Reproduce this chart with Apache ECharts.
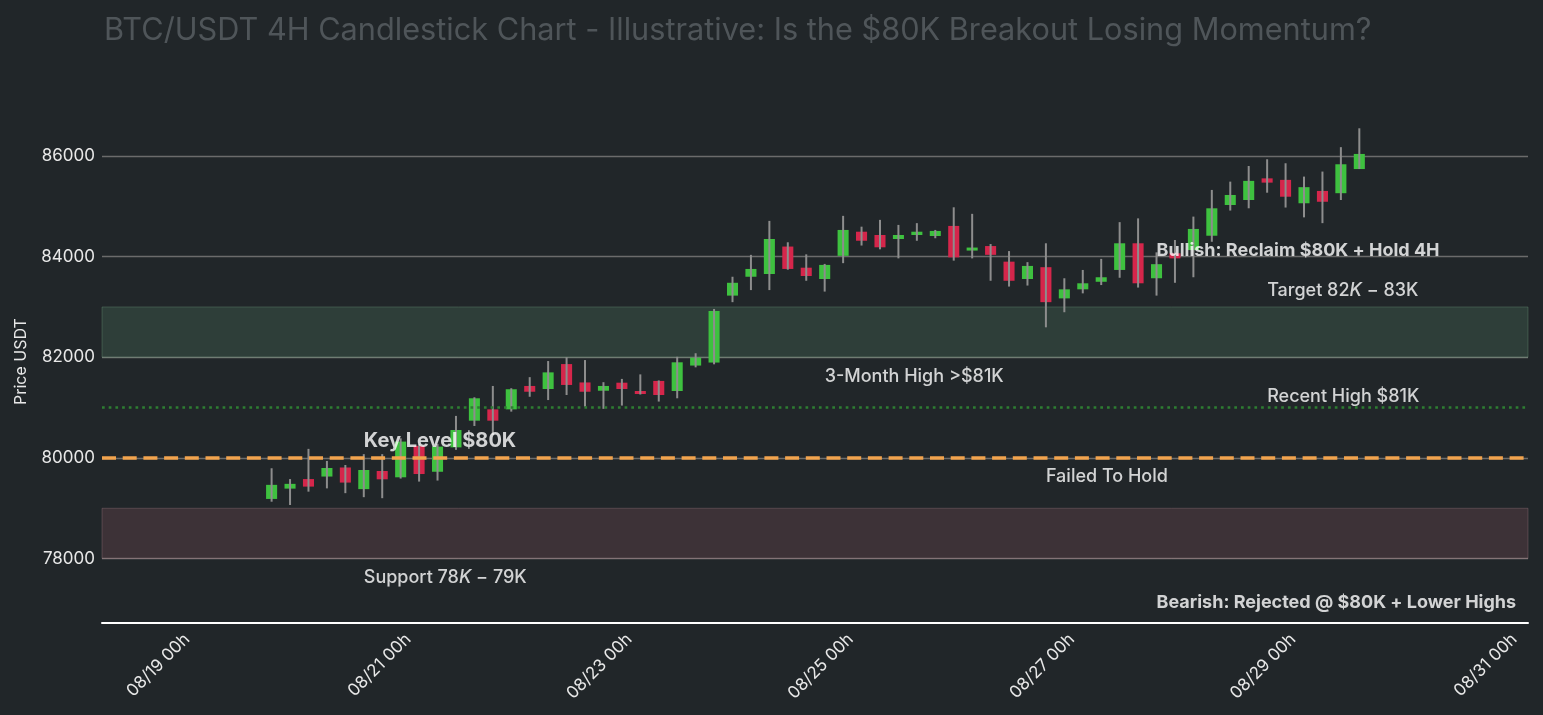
<!DOCTYPE html>
<html>
<head>
<meta charset="utf-8">
<title>BTC/USDT 4H Candlestick Chart</title>
<script src="https://cdn.jsdelivr.net/npm/echarts@6/dist/echarts.min.js"></script>
<style>
html, body { margin: 0; padding: 0; background: #212629; }
#main { width: 1543px; height: 715px; }
</style>
</head>
<body>
<div id="main"></div>
<script>
// 4H candles, times are MM-DD HH
var times = [
    '08-19 16', '08-19 20',
    '08-20 00', '08-20 04', '08-20 08', '08-20 12', '08-20 16', '08-20 20',
    '08-21 00', '08-21 04', '08-21 08', '08-21 12', '08-21 16', '08-21 20',
    '08-22 00', '08-22 04', '08-22 08', '08-22 12', '08-22 16', '08-22 20',
    '08-23 00', '08-23 04', '08-23 08', '08-23 12', '08-23 16', '08-23 20',
    '08-24 00', '08-24 04', '08-24 08', '08-24 12', '08-24 16', '08-24 20',
    '08-25 00', '08-25 04', '08-25 08', '08-25 12', '08-25 16', '08-25 20',
    '08-26 00', '08-26 04', '08-26 08', '08-26 12', '08-26 16', '08-26 20',
    '08-27 00', '08-27 04', '08-27 08', '08-27 12', '08-27 16', '08-27 20',
    '08-28 00', '08-28 04', '08-28 08', '08-28 12', '08-28 16', '08-28 20',
    '08-29 00', '08-29 04', '08-29 08', '08-29 12'
];
var opens = [
    79185, 79390, 79580, 79630, 79810, 79380, 79740, 79615, 80240, 79725,
    80210, 80740, 80965, 80965, 81430, 81370, 81865, 81500, 81335, 81495,
    81330, 81530, 81330, 81835, 81895, 83225, 83600, 83655, 84200, 83780,
    83555, 84015, 84495, 84430, 84350, 84430, 84410, 84610, 84120, 84210,
    83900, 83555, 83790, 83170, 83350, 83500, 83735, 84265, 83570, 84065,
    84130, 84415, 85025, 85125, 85555, 85525, 85060, 85305, 85260, 85740
];
var closes = [
    79465, 79485, 79430, 79800, 79510, 79760, 79575, 80325, 79680, 80225,
    80555, 81185, 80740, 81365, 81315, 81700, 81450, 81315, 81430, 81370,
    81270, 81250, 81900, 81990, 82920, 83480, 83755, 84350, 83755, 83615,
    83835, 84530, 84315, 84185, 84430, 84495, 84510, 83985, 84180, 84035,
    83520, 83815, 83095, 83350, 83470, 83590, 84265, 83470, 83850, 83965,
    84550, 84960, 85225, 85505, 85470, 85190, 85380, 85090, 85835, 86040
];
var lows = [
    79130, 79065, 79330, 79395, 79300, 79220, 79200, 79590, 79530, 79550,
    80160, 80635, 80455, 80920, 81215, 81150, 81250, 81020, 80975, 81040,
    81260, 81120, 81185, 81800, 81860, 83095, 83335, 83335, 83740, 83520,
    83305, 83870, 84220, 84145, 83965, 84315, 84365, 83920, 83965, 83520,
    83405, 83425, 82595, 82895, 83270, 83435, 83580, 83385, 83225, 83480,
    83590, 84295, 84915, 84960, 85270, 84975, 84780, 84665, 85125, 85740
];
var highs = [
    79795, 79580, 80180, 79940, 79860, 80075, 80075, 80390, 80275, 80275,
    80835, 81205, 81430, 81385, 81605, 81925, 82000, 81945, 81505, 81570,
    81660, 81540, 82010, 82080, 82960, 83600, 84035, 84710, 84285, 84045,
    83855, 84810, 84595, 84730, 84630, 84665, 84530, 84980, 84850, 84250,
    84110, 83890, 84265, 83570, 83735, 83955, 84685, 84760, 84085, 84330,
    84795, 85325, 85490, 85800, 85935, 85855, 85590, 85690, 86175, 86550
];

var xTicks = ['08-19 00', '08-21 00', '08-23 00', '08-25 00', '08-27 00', '08-29 00', '08-31 00'];
var xRange = ['08-18 03:12', '08-31 00:36'];
var yTicks = [78000, 80000, 82000, 84000, 86000];
var yRange = [76730, 87100];

var keyLevel = 80000;
var recentHigh = 81000;
var targetZone = [82000, 83000];
var supportZone = [78000, 79000];

var annoText = [
    'Key Level $80K',
    '3-Month High >$81K',
    'Recent High $81K',
    'Failed To Hold',
    'Bullish: Reclaim $80K + Hold 4H',
    'Target 82{i|K} − 83K',
    'Support 78{i|K} − 79K',
    'Bearish: Rejected @ $80K + Lower Highs'
];
var annoTimes = ['08-20 12', '08-24 16', '08-28 16', '08-26 16', '08-27 16', '08-28 16', '08-20 12', '08-27 16'];
var annoValues = [80330, 81610, 81210, 79620, 84110, 83320, 77620, 77120];

function ts(s) {
    var p = s.split(' ');
    var hm = p[1].length === 2 ? p[1] + ':00' : p[1];
    return new Date('2025-' + p[0] + 'T' + hm + ':00').getTime();
}
function pad(n) { return n < 10 ? '0' + n : '' + n; }

var FONT = 'Inter';
var TEXT = '#e8e8e8';
var FOUR_H = 4 * 3600 * 1000;

var candles = times.map(function (t, i) {
    return [ts(t), opens[i], closes[i], lows[i], highs[i]];
});

function renderCandle(params, api) {
    var t = api.value(0), o = api.value(1), c = api.value(2);
    var top = api.coord([t, Math.max(o, c)]);
    var bot = api.coord([t, Math.min(o, c)]);
    var hi = api.coord([t, api.value(4)]);
    var lo = api.coord([t, api.value(3)]);
    var w = api.size([FOUR_H, 0])[0] * 0.6;
    return {
        type: 'group',
        children: [
            {
                type: 'rect',
                shape: { x: top[0] - w / 2, y: top[1], width: w, height: Math.max(bot[1] - top[1], 1.5) },
                style: { fill: c >= o ? '#3ec13f' : '#d5264b' }
            },
            {
                type: 'line',
                shape: { x1: hi[0], y1: hi[1], x2: lo[0], y2: lo[1] },
                style: { stroke: '#8d8d8d', lineWidth: 2 }
            }
        ]
    };
}

// bold annotations: index -> font size
var boldNotes = { 0: 20, 4: 18, 7: 18 };

var notes = annoTimes.map(function (t, i) {
    var bold = boldNotes[i] !== undefined;
    return {
        value: [ts(t), annoValues[i]],
        label: {
            show: true,
            position: 'right',
            distance: 0,
            formatter: annoText[i],
            color: '#ffffff',
            fontFamily: FONT,
            fontSize: bold ? boldNotes[i] : 18,
            fontWeight: bold ? 'bold' : 500,
            rich: {
                i: { fontStyle: 'italic', fontWeight: 500, fontFamily: FONT, fontSize: 18, color: '#ffffff' }
            }
        }
    };
});

var myChart = echarts.init(document.getElementById('main'));

var option = {
    backgroundColor: '#212629',
    animation: false,
    title: {
        text: 'BTC/USDT 4H Candlestick Chart - Illustrative: Is the $80K Breakout Losing Momentum?',
        left: 104,
        top: 15,
        padding: 0,
        textStyle: { color: '#4f5559', fontFamily: FONT, fontSize: 30.7, fontWeight: 'normal' }
    },
    grid: { left: 102, right: 15, top: 100.6, bottom: 92.5 },
    xAxis: {
        type: 'value',
        min: ts(xRange[0]),
        max: ts(xRange[1]),
        axisLine: { show: true, lineStyle: { color: '#ffffff', width: 2 } },
        axisTick: { show: false, customValues: xTicks.map(ts) },
        splitLine: { show: false },
        axisLabel: {
            customValues: xTicks.map(ts),
            rotate: 45,
            margin: 15,
            verticalAlign: 'bottom',
            padding: [0, 7, 0, 0],
            color: TEXT,
            fontFamily: FONT,
            fontSize: 17,
            formatter: function (v) {
                var d = new Date(v);
                return pad(d.getMonth() + 1) + '/' + pad(d.getDate()) + ' ' + pad(d.getHours()) + 'h';
            }
        }
    },
    yAxis: {
        type: 'value',
        min: yRange[0],
        max: yRange[1],
        name: 'Price USDT',
        nameLocation: 'middle',
        nameRotate: 90,
        nameGap: 73,
        nameTextStyle: { color: TEXT, fontFamily: FONT, fontSize: 16 },
        axisLine: { show: false },
        axisTick: { show: false, customValues: yTicks },
        axisLabel: {
            customValues: yTicks,
            color: TEXT,
            fontFamily: FONT,
            fontSize: 17,
            margin: 7,
            formatter: function (v) { return String(v); }
        },
        splitLine: { show: true, lineStyle: { color: '#6b6b6b', width: 1.3 } }
    },
    series: [
        {
            name: 'zones',
            type: 'line',
            data: [],
            z: 1,
            silent: true,
            markArea: {
                silent: true,
                data: [
                    [
                        { yAxis: targetZone[0], itemStyle: { color: 'rgba(95,150,115,0.22)', borderColor: 'rgba(140,190,155,0.25)', borderWidth: 1 } },
                        { yAxis: targetZone[1] }
                    ],
                    [
                        { yAxis: supportZone[0], itemStyle: { color: 'rgba(150,90,100,0.24)', borderColor: 'rgba(200,150,160,0.25)', borderWidth: 1 } },
                        { yAxis: supportZone[1] }
                    ]
                ]
            }
        },
        {
            name: 'BTC/USDT',
            type: 'custom',
            z: 2,
            renderItem: renderCandle,
            encode: { x: 0, y: [1, 2, 3, 4] },
            data: candles
        },
        {
            name: 'notes',
            type: 'scatter',
            z: 5,
            symbolSize: 0,
            silent: true,
            data: notes,
            markLine: {
                silent: true,
                symbol: 'none',
                label: { show: false },
                data: [
                    { yAxis: recentHigh, lineStyle: { color: '#2e7d32', type: [2.7, 4], width: 2.5 } },
                    { yAxis: keyLevel, lineStyle: { color: '#f2a44e', type: [14, 6.7], width: 3.5 } }
                ]
            }
        }
    ]
};

myChart.setOption(option);
</script>
</body>
</html>
